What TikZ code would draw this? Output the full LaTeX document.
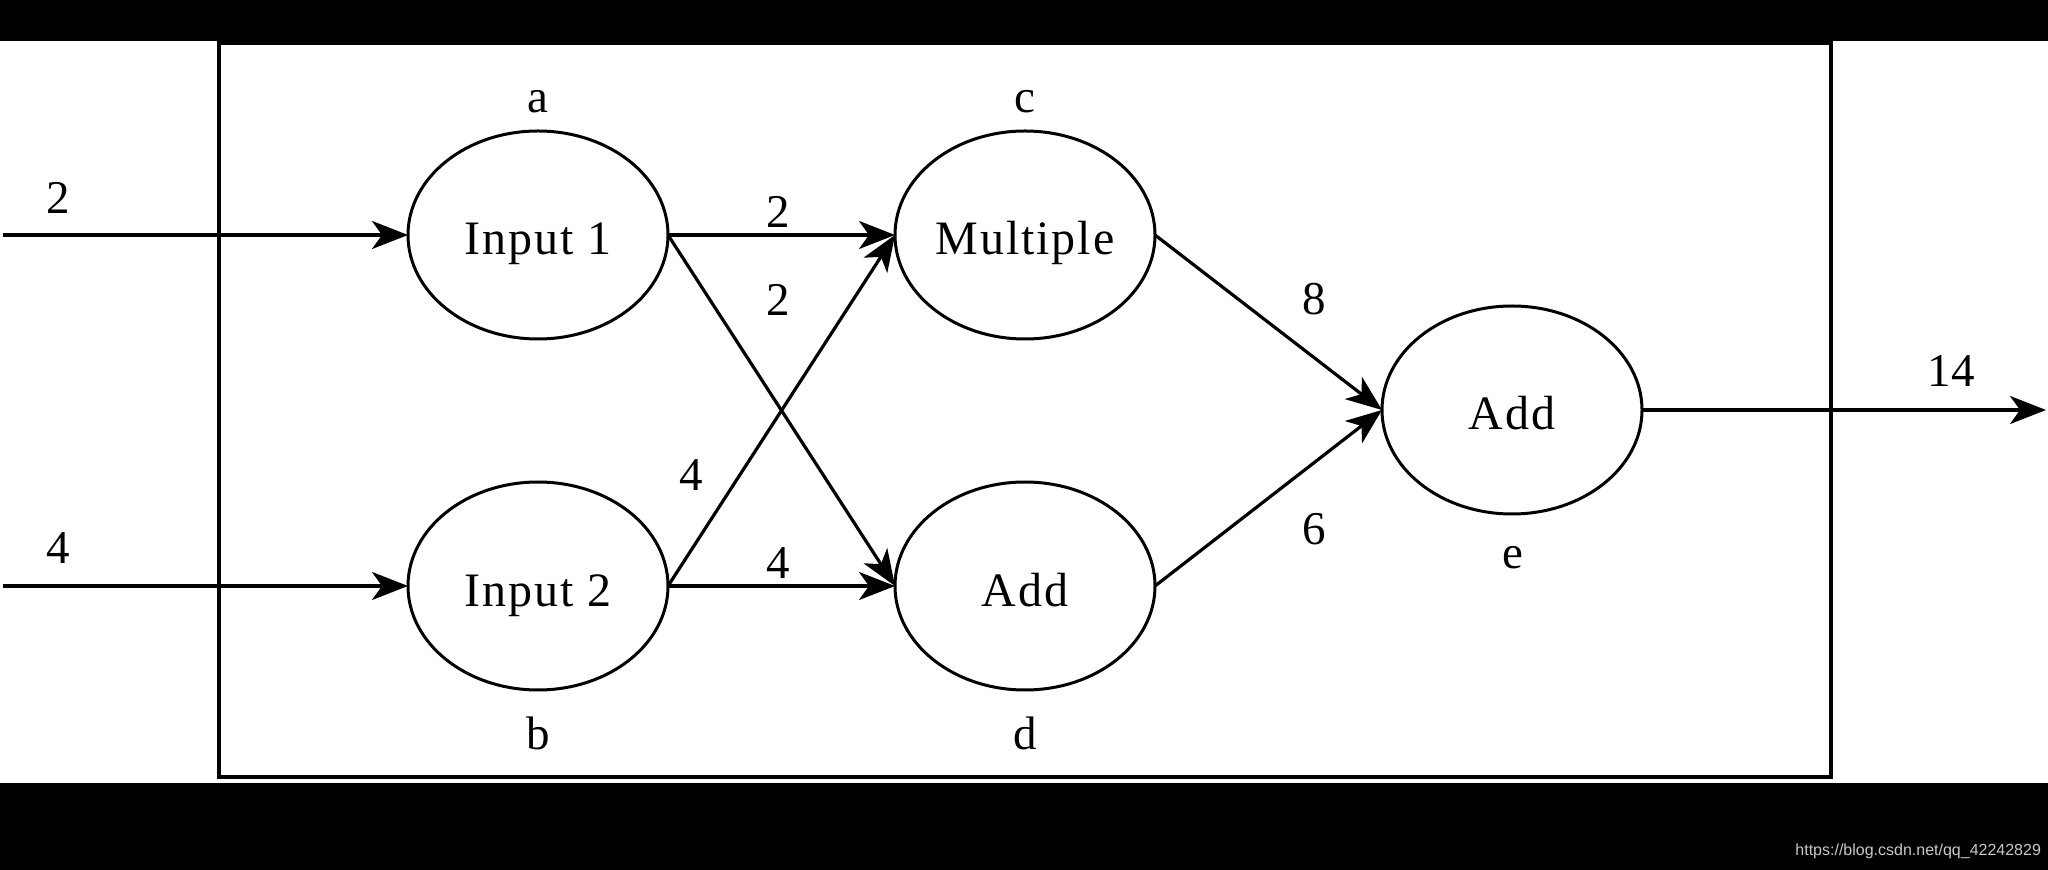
\documentclass[tikz,border=0pt]{standalone}
\usepackage{fontspec}
\setmainfont{Liberation Serif}
\newfontfamily\spacedserif[LetterSpace=4]{Liberation Serif}
\newfontfamily\wmfont{Liberation Sans}
\usetikzlibrary{shapes.geometric,arrows.meta}
\definecolor{wmgray}{RGB}{200,200,200}
\begin{document}
\begin{tikzpicture}[x=0.5pt,y=-0.5pt,
  op/.style={draw,ellipse,line width=1.5pt,minimum width=130pt,minimum height=104pt,inner sep=0pt,outer sep=0pt,text height=20pt,text depth=0pt,font=\spacedserif\fontsize{24}{28}\selectfont},
  lbl/.style={inner sep=0pt,font=\fontsize{23.5}{27}\selectfont},
  conn/.style={line width=1.6pt,-{Stealth[length=18pt,width=14pt,inset=5pt]}}]
\useasboundingbox (0,0) rectangle (2048,870);
\fill[white] (0,0) rectangle (2048,870);
\fill[black] (0,0) rectangle (2048,41);
\fill[black] (0,783) rectangle (2048,870);
\draw[line width=1.6pt] (219,43) rectangle (1831,777);
\node[op] (a) at (538,235) {Input 1};
\node[op] (b) at (538,586) {Input 2};
\node[op] (c) at (1025,235) {Multiple};
\node[op] (d) at (1025,586) {Add};
\node[op] (e) at (1512,410) {Add};
\coordinate (i1) at (3,235);
\coordinate (i2) at (3,586);
\coordinate (o) at (2046,410);
\draw[conn] (i1) -- (a.west);
\draw[conn] (i2) -- (b.west);
\draw[conn] (a.east) -- (c.west);
\draw[conn] (a.east) -- (d.west);
\draw[conn] (b.east) -- (c.west);
\draw[conn] (b.east) -- (d.west);
\draw[conn] (c.east) -- (e.west);
\draw[conn] (d.east) -- (e.west);
\draw[conn] (e.east) -- (o);
\node[lbl] (la) at (538,102) {a};
\node[lbl] (lb) at (538,733) {b};
\node[lbl] (lc) at (1025,102) {c};
\node[lbl] (ld) at (1025,733) {d};
\node[lbl] (le) at (1513,558) {e};
\node[lbl] (v1) at (58,198) {2};
\node[lbl] (v2) at (58,548) {4};
\node[lbl] (v3) at (778,212) {2};
\node[lbl] (v4) at (778,300) {2};
\node[lbl] (v5) at (691,475) {4};
\node[lbl] (v6) at (778,563) {4};
\node[lbl] (v7) at (1314,299) {8};
\node[lbl] (v8) at (1314,529) {6};
\node[lbl] (v9) at (1951,371) {14};
\node[anchor=west,inner sep=0pt,text=wmgray,font=\wmfont\fontsize{8}{10}\selectfont] (wm) at (1795,851) {https://blog.csdn.net/qq\_42242829};
\end{tikzpicture}
\end{document}
